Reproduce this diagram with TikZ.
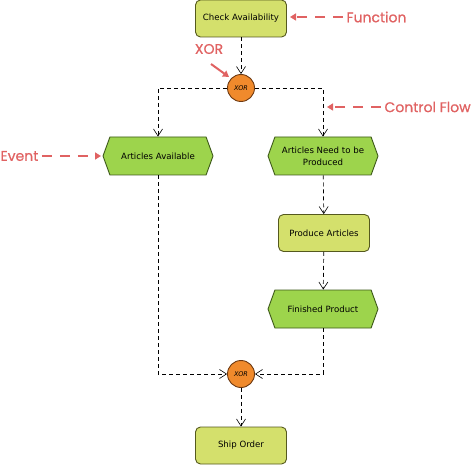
\documentclass[tikz,border=0pt]{standalone}
\usepackage{fontspec}
\setmainfont{DejaVu Sans}
\newfontfamily\notefont[FakeBold=0.8]{Poppins}
\usetikzlibrary{arrows.meta,positioning,shapes.symbols}
\definecolor{funcfill}{HTML}{D4E06C}
\definecolor{funcline}{HTML}{55591E}
\definecolor{evtfill}{HTML}{9DD44C}
\definecolor{evtline}{HTML}{3E5A1A}
\definecolor{xorfill}{HTML}{F08A2C}
\definecolor{xorline}{HTML}{6E3A12}
\definecolor{notered}{HTML}{E06262}
\tikzstyle{func}=[draw=funcline,line width=0.9pt,fill=funcfill,rounded corners=5pt,minimum width=91pt,minimum height=37pt,font=\fontsize{8.6}{11}\selectfont]
\tikzstyle{evt}=[signal,signal to=west and east,signal pointer angle=140,draw=evtline,line width=0.9pt,fill=evtfill,minimum width=110pt,minimum height=38pt,inner sep=1pt,align=center,font=\fontsize{8.6}{12}\selectfont]
\tikzstyle{xorgate}=[circle,draw=xorline,line width=0.9pt,fill=xorfill,minimum size=27pt,inner sep=0pt,font=\fontsize{6.5}{7}\selectfont\itshape]
\tikzstyle{flow}=[line width=0.7pt,dash pattern=on 4pt off 3pt,-{Straight Barb[length=7pt,width=9pt,line width=0.6pt]}]
\tikzstyle{note}=[text=notered,font=\notefont\fontsize{14}{17}\selectfont]
\tikzstyle{notearrow}=[draw=notered,line width=2pt,-{Triangle[length=6pt,width=7pt]}]

\begin{document}
\begin{tikzpicture}[x=1pt,y=-1pt]
		\useasboundingbox (0,0) rectangle (474,465);
		% diagram
		\node[func] (check) at (241,18.5) {Check Availability};
		\node[xorgate] (xor1) at (241,88) {XOR};
		\node[evt] (avail) at (158,156) {Articles Available};
		\node[evt] (need) at (323,156) {Articles Need to be\\Produced};
		\node[func] (produce) at (324,233) {Produce Articles};
		\node[evt] (finished) at (323,309) {Finished Product};
		\node[xorgate] (xor2) at (241,374) {XOR};
		\node[func] (ship) at (241,445.5) {Ship Order};
		
		\draw[flow] (check) -- (xor1);
		\draw[flow] (xor1) -| (avail);
		\draw[flow] (xor1) -| (need);
		\draw[flow] (need) -- (produce);
		\draw[flow] (produce) -- (finished);
		\draw[flow] (avail) |- (xor2);
		\draw[flow] (finished) |- (xor2);
		\draw[flow] (xor2) -- (ship);
		
		% notes
		\node[note,anchor=west] (fnote) at (343,17) {Function};
		\node[note] (xnote) at (209,49) {XOR};
		\node[note,anchor=west] (cnote) at (381,107) {Control Flow};
		\node[note,anchor=west] (enote) at (-3,156) {Event};
		\coordinate (ftip) at (290,17);
		\coordinate (xtail) at (211,64);
		\coordinate (xtip) at (229,77);
		\coordinate (ctip) at (327,107);
		\coordinate (etip) at (101,156);
		\draw[notearrow,dash pattern=on 10pt off 8pt] (fnote.west) -- (ftip);
		\draw[notearrow] (xtail) -- (xtip);
		\draw[notearrow,dash pattern=on 10pt off 8pt] (cnote.west) -- (ctip);
		\draw[notearrow,dash pattern=on 10pt off 8pt] (enote.east) -- (etip);
		\end{tikzpicture}
\end{document}
